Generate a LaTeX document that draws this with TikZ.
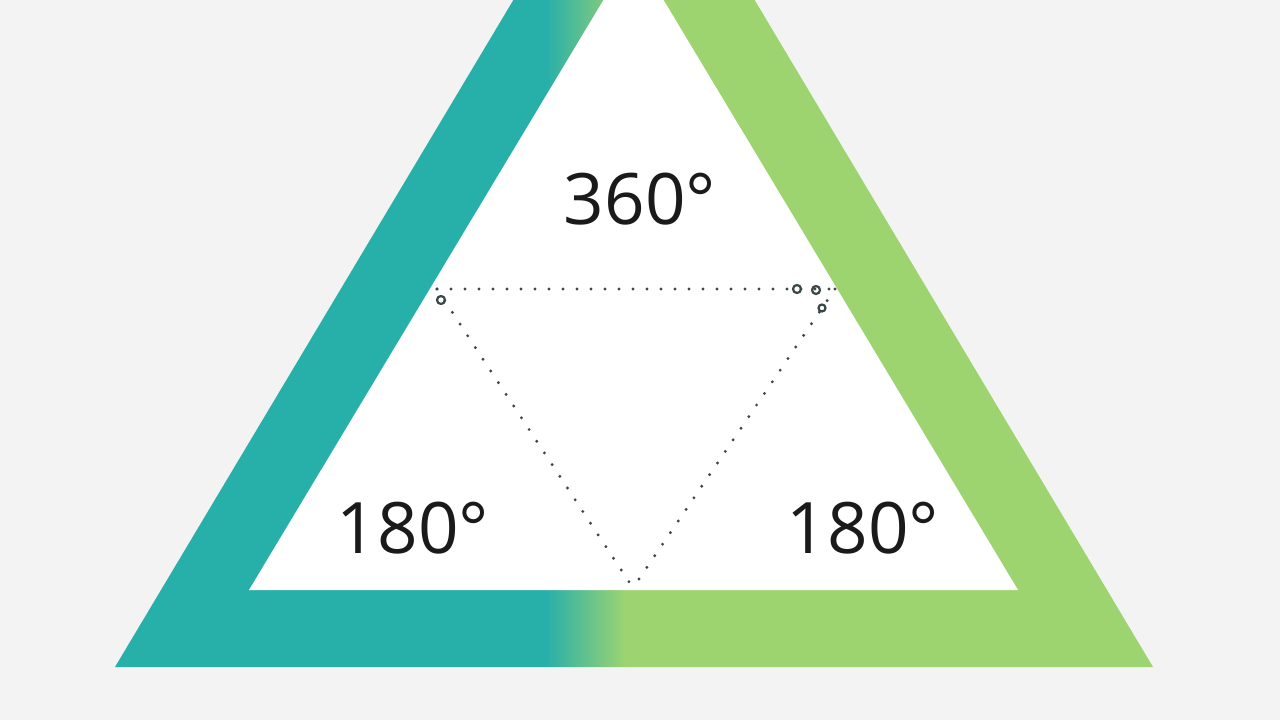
\documentclass[tikz,border=0pt]{standalone}
\usepackage{fontspec}
\setmainfont{Open Sans}
\definecolor{bg}{HTML}{F3F3F3}
\definecolor{tealc}{HTML}{27AFAA}
\definecolor{greenc}{HTML}{9DD470}
\definecolor{dotc}{HTML}{3A4747}
\definecolor{txt}{HTML}{1A1A1A}
\begin{document}
\begin{tikzpicture}[x=1pt,y=-1pt,
  lbl/.style={font=\fontsize{71}{72}\selectfont, text=txt, inner sep=0pt},
  dotline/.style={draw=dotc, line width=3.2pt, dash pattern=on 0pt off 14pt, line cap=round},
  anglemark/.style={circle, draw=dotc, line width=2.2pt, inner sep=0pt, minimum size=8pt}]
\fill[bg] (0,0) rectangle (1280,720);
\useasboundingbox (0,0) rectangle (1280,720);
% outer and inner triangle vertices
\coordinate (OA) at (634,-202);
\coordinate (OL) at (115,667);
\coordinate (OR) at (1153,667);
\coordinate (IA) at (633.5,-50);
\coordinate (IL) at (249,590);
\coordinate (IR) at (1018,590);
% coloured frame
\begin{scope}
  \clip (OA) -- (OL) -- (OR) -- cycle;
  \fill[tealc] (100,-250) rectangle (546,700);
  \shade[left color=tealc, right color=greenc] (545,-250) rectangle (626,700);
  \fill[greenc] (625,-250) rectangle (1200,700);
\end{scope}
\fill[white] (IA) -- (IL) -- (IR) -- cycle;
% dotted inner triangle
\coordinate (P1) at (437,289);
\coordinate (P2) at (835,289);
\coordinate (P3) at (633,588);
\draw[dotline] (P1) -- (P2);
\draw[dotline] (P1) -- (P3);
\draw[dotline] (P2) -- (P3);
% angle marks
\node[anglemark] (m1) at (441,300) {};
\node[anglemark] (m2) at (797,289) {};
\node[anglemark] (m3) at (816,290) {};
\node[anglemark, minimum size=7pt] (m4) at (822,308) {};
% labels
\node[lbl] (t360) at (640,199) {360°};
\node[lbl] (t180l) at (413,528) {180°};
\node[lbl] (t180r) at (863,528) {180°};
\end{tikzpicture}
\end{document}
